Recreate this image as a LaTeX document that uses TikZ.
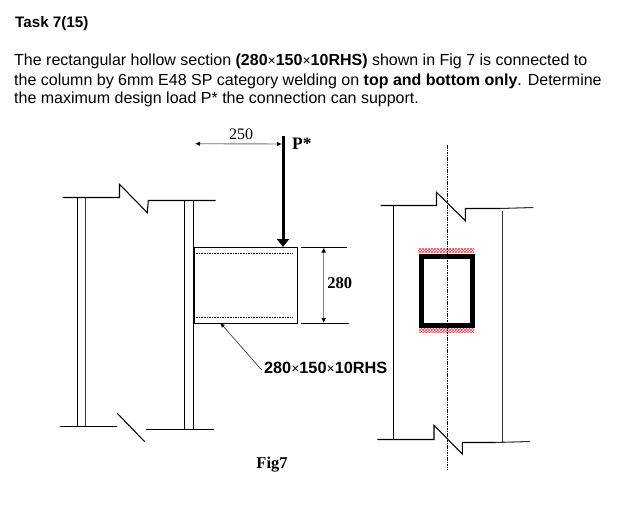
\documentclass[tikz,border=0pt]{standalone}
\usepackage{fontspec}
\setmainfont{Liberation Sans}
\newfontfamily\timesf{Liberation Serif}
\usetikzlibrary{arrows.meta,patterns}
\definecolor{weldred}{RGB}{215,90,100}
\definecolor{weldpink}{RGB}{252,225,225}
\newcommand{\tmes}{{\normalfont\fontsize{14}{14}\selectfont ×}}
\tikzset{
  para/.style={anchor=base west,inner sep=0pt,font=\fontsize{16}{18}\selectfont},
  dimtxt/.style={anchor=center,inner sep=0pt,font=\timesf\fontsize{16}{18}\selectfont},
  boldtimes/.style={anchor=center,inner sep=0pt,font=\timesf\bfseries\fontsize{16.5}{18}\selectfont},
  struct/.style={line width=1.05pt,black},
  graystruct/.style={line width=1.05pt,black!80},
  hidden/.style={line width=0.7pt,black,dash pattern=on 1.6pt off 1pt},
  center line/.style={line width=0.7pt,black,dash pattern=on 1.6pt off 0.8pt},
  dimarrow/.style={line width=0.9pt,black!55,{Latex[length=5pt,width=4.5pt,black]}-{Latex[length=5pt,width=4.5pt,black]}},
  weld/.style={draw=none,fill=weldpink,postaction={pattern=crosshatch,pattern color=weldred}},
}
\begin{document}
\begin{tikzpicture}[x=1pt,y=-1pt]
\useasboundingbox (0,0) rectangle (626,519);
\fill[white] (0,0) rectangle (626,519);
% texts
\node[para,font=\bfseries\fontsize{15.2}{18}\selectfont] (title) at (15,28) {Task 7(15)};
\node[para] (l1) at (14,66) {The rectangular hollow section \textbf{(280\tmes150\tmes10RHS)} shown in Fig 7 is connected to};
\node[para] (l2) at (14,85) {the column by 6mm E48 SP category welding on \textbf{top and bottom only}. Determine};
\node[para] (l3) at (14,103) {the maximum design load P* the connection can support.};
% left elevation
\draw[struct] (62.7,197.5) -- (119.5,197.5) -- (119.5,184.3) -- (147.3,212.7) -- (148.3,200.5) -- (215.7,200.5);
\draw[struct] (77.5,197.5) -- (77.5,426.5);
\draw[graystruct] (85.5,197.5) -- (85.5,426.5);
\draw[struct] (184.5,200.5) -- (184.5,429.5);
\draw[struct] (193.5,200.5) -- (193.5,429.5);
\draw[struct] (60,426.5) -- (116.7,426.5);
\draw[struct] (117.3,413.3) -- (144.7,441.7);
\draw[struct] (146,429.5) -- (214,429.5);
% beam
\node[draw,line width=1.05pt,minimum width=103pt,minimum height=76pt,inner sep=0pt,anchor=north west] (beam) at (193.5,246.5) {};
\coordinate (dtl) at (193.5,253.5); \coordinate (dtr) at (293,253.5);
\coordinate (dbl) at (193.5,317.5); \coordinate (dbr) at (293,317.5);
\draw[hidden] (dtl) -- (dtr);
\draw[hidden] (dbl) -- (dbr);
% load
\coordinate (ptop) at (283,136);
\coordinate (pend) at (283,247);
\draw[line width=3pt,-{Triangle[length=8pt,width=12pt]}] (ptop) -- (pend);
\node[boldtimes,font=\timesf\bfseries\fontsize{17.5}{18}\selectfont] (pstar) at (301.8,143.3) {P*};
% 250 dim
\coordinate (da) at (195,143.7); \coordinate (db) at (282,144);
\draw[dimarrow] (da) -- (db);
\node[dimtxt] (d250) at (241,134.3) {250};
% 280 dim
\coordinate (e1a) at (300.7,247.5); \coordinate (e1b) at (347.3,247.5);
\coordinate (e2a) at (301.3,323.5); \coordinate (e2b) at (348.7,323.5);
\draw[struct] (e1a) -- (e1b);
\draw[struct] (e2a) -- (e2b);
\coordinate (fa) at (323.7,247.5); \coordinate (fb) at (323.7,323);
\draw[line width=1.1pt,black!50,{Latex[length=5pt,width=5pt,black]}-{Latex[length=5pt,width=5pt,black]}] (fa) -- (fb);
\node[boldtimes] (d280) at (339.8,282.7) {280};
% leader
\node[anchor=center,inner sep=0pt,font=\bfseries\fontsize{16.3}{18}\selectfont] (rhs) at (325.7,368.3) {280\tmes150\tmes10RHS};
\coordinate (lead) at (220,322.6);
\draw[line width=0.7pt,black!75,{Latex[length=5pt,width=4pt,black]}-] (lead) -- (261.7,370);
\node[boldtimes] (fig) at (272,465) {Fig7};
% right section
\draw[struct] (380.7,205.5) -- (436.5,205.5) -- (436.5,192.3) -- (465.3,220.7) -- (465.5,208.5) -- (500,208.5);
\draw[graystruct] (500,208.5) -- (533.3,207.5);
\draw[struct] (393.5,205.5) -- (393.5,439.5);
\draw[graystruct] (502.5,211) -- (502.5,442);
\draw[struct] (377.3,439.5) -- (434,439.5) -- (434,425.3) -- (462.3,454) -- (462.3,442.5) -- (495,442.5);
\draw[graystruct] (495,442.5) -- (530,441.5);
\coordinate (cta) at (447.7,145); \coordinate (ctb) at (447.7,470);
% welds
\path[weld] (418,248) rectangle (474,252.7);
\path[weld] (419.3,328) rectangle (474,332.7);
% RHS
\draw[line width=4.7pt,black,fill=white] (421.7,256.3) rectangle (472.3,325.7);
\draw[center line] (cta) -- (ctb);
\end{tikzpicture}
\end{document}
